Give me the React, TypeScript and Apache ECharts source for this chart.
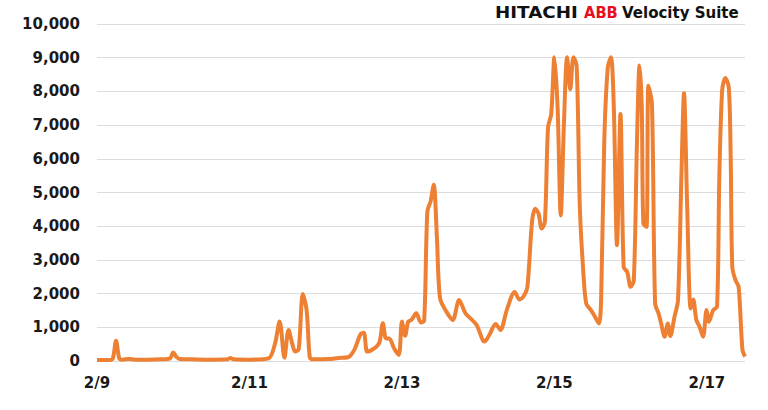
import React, { useEffect, useRef } from "react";
import * as echarts from "echarts";

// hours since 2/9 00:00
const hours = [
  0, 4, 5, 6, 7, 8, 10, 12, 16, 20, 23, 24, 25, 26, 30, 36, 41, 42, 43, 48, 54,
  56, 57.5, 59, 60.3, 61.5, 62.4, 63.5, 64.8, 66, 67, 68, 73, 76, 79, 81, 83, 84,
  85, 86, 88, 89, 90, 91, 92, 93.5, 95, 96, 97, 98, 99, 100.5, 102, 103, 104, 105,
  106, 107, 108, 110, 112, 114, 116, 117.5, 119.5, 122, 123.5, 125.5, 127, 129,
  131.5, 133, 134.5, 135.5, 137, 138, 139, 140, 141, 142, 143, 144, 145, 146,
  147, 148, 149, 150, 151, 152, 153, 154, 155.5, 156.5, 158, 158.7, 159.7, 160.8,
  161.8, 162.7, 163.7, 164.8, 165.8, 166.9, 168, 169, 170, 170.8, 171.5, 172,
  173, 173.6, 174.7, 175.7, 176.8, 177.6, 178.7, 179.7, 180.5, 181.8, 182.9, 184,
  184.8, 185.8, 186.9, 187.7, 188.7, 189.7, 190.8, 191.9, 192.6, 194, 195.2,
  195.9, 196.8, 197.8, 198.9, 199.5, 200, 201, 202, 203.2, 204,
];

const values = [
  30, 30, 80, 600, 80, 40, 60, 40, 40, 50, 80, 250, 120, 60, 50, 40, 50, 90, 50,
  40, 80, 500, 1170, 100, 920, 500, 280, 350, 1990, 1500, 100, 50, 60, 90, 110,
  330, 800, 840, 280, 300, 425, 575, 1120, 670, 670, 375, 180, 1170, 750, 1170,
  1220, 1415, 1140, 1200, 4435, 4730, 5230, 3690, 1860, 1465, 1220, 1810, 1415,
  1270, 1070, 575, 770, 1100, 920, 1510, 2050, 1825, 1950, 2200, 4175, 4520, 4370,
  3930, 4125, 6940, 7330, 9010, 7530, 4320, 7040, 9010, 8070, 9010, 8760, 4570,
  2790, 1710, 1510, 1360, 1115, 1800, 6540, 8715, 9010, 7530, 3435, 7330, 2790,
  2645, 2200, 2400, 6540, 8765, 7530, 4075, 3980, 8170, 7630, 1710, 1410, 1115,
  720, 1115, 740, 1310, 1800, 5560, 7945, 4570, 1560, 1825, 1215, 1015, 720, 1510,
  1165, 1510, 1610, 5360, 8025, 8400, 8120, 6050, 2790, 2400, 2200, 325, 130,
];

const xTickLabels = ["2/9", "2/11", "2/13", "2/15", "2/17"];
const yTicks = [0, 1000, 2000, 3000, 4000, 5000, 6000, 7000, 8000, 9000, 10000];

const FONT = "'DejaVu Sans', Verdana, sans-serif";

export default function App() {
  const ref = useRef<HTMLDivElement>(null);

  useEffect(() => {
    if (!ref.current) return;
    const chart = echarts.init(ref.current, null, { renderer: "svg" });
    const data = hours.map((h, i) => [h, values[i]]);
    chart.setOption({
      animation: false,
      backgroundColor: "#ffffff",
      grid: { left: 97, right: 23, top: 24, bottom: 49 },
      xAxis: {
        type: "value",
        min: 0,
        max: 204,
        interval: 48,
        axisLine: { show: false },
        axisTick: { show: false },
        splitLine: { show: false },
        axisLabel: {
          margin: 14,
          fontFamily: FONT,
          fontWeight: "bold",
          fontSize: 15,
          color: "#1a1a1a",
          formatter: (v: number) => (v % 48 === 0 ? xTickLabels[v / 48] ?? "" : ""),
        },
      },
      yAxis: {
        type: "value",
        min: yTicks[0],
        max: yTicks[yTicks.length - 1],
        interval: 1000,
        axisLine: { show: false },
        axisTick: { show: false },
        splitLine: { lineStyle: { color: "#DCDCDC", width: 1 } },
        axisLabel: {
          margin: 17,
          fontFamily: FONT,
          fontWeight: "bold",
          fontSize: 15,
          color: "#1a1a1a",
          formatter: (v: number) => v.toLocaleString("en-US"),
        },
      },
      graphic: [
        {
          type: "text",
          x: 495,
          y: 5,
          scaleX: 1.18,
          style: { text: "HITACHI", fill: "#111", font: `bold 15.5px ${FONT}` },
        },
        {
          type: "text",
          x: 584,
          y: 5,
          scaleX: 0.95,
          style: { text: "ABB", fill: "#E8101E", font: `bold 15.5px ${FONT}` },
        },
        {
          type: "text",
          x: 622,
          y: 5,
          scaleX: 0.97,
          style: { text: "Velocity Suite", fill: "#111", font: `bold 15.5px ${FONT}` },
        },
      ],
      series: [
        {
          type: "line",
          data,
          smooth: 0.3,
          showSymbol: false,
          symbol: "none",
          lineStyle: { color: "#EE8033", width: 4 },
        },
      ],
    });
    return () => chart.dispose();
  }, []);

  return (
    <div
      ref={ref}
      style={{ position: "absolute", left: 0, top: 0, width: 768, height: 410 }}
    />
  );
}
